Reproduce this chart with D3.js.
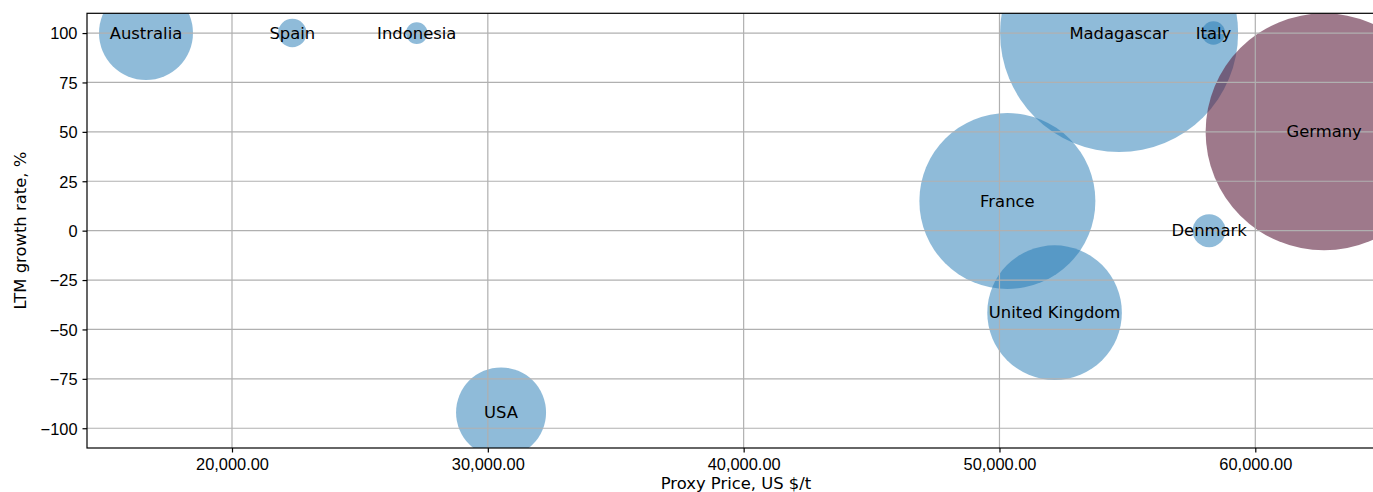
<!DOCTYPE html>
<html>
<head>
<meta charset="utf-8">
<script src="https://cdn.jsdelivr.net/npm/d3@7"></script>
<style>
  body { margin: 0; background: #fff; }
  svg { display: block; font-family: "DejaVu Sans", sans-serif; }
  .axis text { font-size: 16.4px; fill: #000; }
  .axis line, .axis path { stroke: #000; }
</style>
</head>
<body>
<div id="chart"></div>
<script>
// bubble chart: proxy price vs LTM growth, bubble area = volume
var countries = ["Australia", "Spain", "Indonesia", "Madagascar", "Italy", "France", "Denmark", "United Kingdom", "USA", "Germany"];
var prices    = [16638, 22358, 27221, 54676, 58363, 50309, 58194, 52154, 30517, 62690];
var growth    = [100, 100, 100, 100, 100, 15, 0, -41.5, -92, 50];
var volumes   = [2209, 202, 117, 14161, 137, 7744, 272, 4529, 2025, 14042];
var highlight = "Germany";

var xTicks = [20000, 30000, 40000, 50000, 60000];
var yTicks = [-100, -75, -50, -25, 0, 25, 50, 75, 100];

var svgWidth = 1373, svgHeight = 492;
var plot = {left: 87, right: 1385, top: 13.3, bottom: 448};

var svg = d3.select('#chart').append('svg')
  .attr('width', svgWidth)
  .attr('height', svgHeight);

var x = d3.scaleLinear().domain([14332, 65070]).range([plot.left, plot.right]);
var y = d3.scaleLinear().domain([-110, 110]).range([plot.bottom, plot.top]);
var r = d3.scaleSqrt().domain([0, d3.max(volumes)]).range([0, 119]);

var data = countries.map(function(c, i) {
  return {name: c, price: prices[i], growth: growth[i], volume: volumes[i]};
});

svg.append('clipPath').attr('id', 'plot-clip')
  .append('rect')
  .attr('x', plot.left).attr('y', plot.top)
  .attr('width', plot.right - plot.left).attr('height', plot.bottom - plot.top);

// bubbles
svg.append('g')
  .attr('clip-path', 'url(#plot-clip)')
  .selectAll('circle')
  .data(data)
  .enter().append('circle')
  .attr('cx', function(d) { return x(d.price); })
  .attr('cy', function(d) { return y(d.growth); })
  .attr('r', function(d) { return r(d.volume); })
  .attr('fill', function(d) { return d.name === highlight ? '#5e1f3e' : '#1f77b4'; })
  .attr('fill-opacity', function(d) { return d.name === highlight ? 0.6 : 0.5; });

// grid sits above the bubbles, like matplotlib
var grid = svg.append('g').attr('clip-path', 'url(#plot-clip)')
  .attr('stroke', '#b0b0b0').attr('stroke-width', 1.2);
grid.selectAll('.vgrid').data(xTicks).enter().append('line')
  .attr('x1', function(d) { return x(d); }).attr('x2', function(d) { return x(d); })
  .attr('y1', plot.top).attr('y2', plot.bottom);
grid.selectAll('.hgrid').data(yTicks).enter().append('line')
  .attr('x1', plot.left).attr('x2', plot.right)
  .attr('y1', function(d) { return y(d); }).attr('y2', function(d) { return y(d); });

// axes
var xAxis = svg.append('g')
  .attr('class', 'axis')
  .attr('transform', 'translate(0,' + plot.bottom + ')')
  .call(d3.axisBottom(x).tickValues(xTicks).tickFormat(d3.format(',.2f')).tickSize(4.5).tickPadding(5.5));
xAxis.select('.domain').remove();
xAxis.selectAll('line').attr('stroke-width', 1.2);

var yAxis = svg.append('g')
  .attr('class', 'axis')
  .attr('transform', 'translate(' + plot.left + ',0)')
  .call(d3.axisLeft(y).tickValues(yTicks).tickSize(4.5).tickPadding(5));
yAxis.select('.domain').remove();
yAxis.selectAll('line').attr('stroke-width', 1.2);
yAxis.selectAll('text').attr('dy', '0.36em');

// spines
svg.append('rect')
  .attr('x', plot.left).attr('y', plot.top)
  .attr('width', plot.right - plot.left).attr('height', plot.bottom - plot.top)
  .attr('fill', 'none').attr('stroke', '#000').attr('stroke-width', 1.2);

// bubble labels
svg.append('g')
  .selectAll('text')
  .data(data)
  .enter().append('text')
  .attr('x', function(d) { return x(d.price); })
  .attr('y', function(d) { return y(d.growth); })
  .attr('dy', '0.34em')
  .attr('text-anchor', 'middle')
  .attr('font-size', '16.4px')
  .attr('fill', '#000')
  .text(function(d) { return d.name; });

// axis titles
svg.append('text')
  .attr('x', (plot.left + plot.right) / 2)
  .attr('y', 489)
  .attr('text-anchor', 'middle')
  .attr('font-size', '16.4px')
  .text('Proxy Price, US $/t');

svg.append('text')
  .attr('transform', 'translate(25.5,' + (plot.top + plot.bottom) / 2 + ') rotate(-90)')
  .attr('text-anchor', 'middle')
  .attr('font-size', '16.4px')
  .text('LTM growth rate, %');
</script>
</body>
</html>
